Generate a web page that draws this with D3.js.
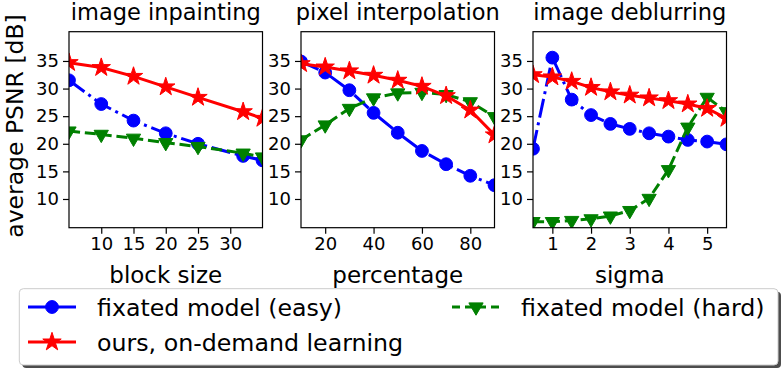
<!DOCTYPE html>
<html>
<head>
<meta charset="utf-8" />
<title>PSNR panels</title>
<style>
html, body {
    margin: 0px;
    padding: 0px;
    background: #fff;
}
svg {
    display: block;
    font-family: "DejaVu Sans", sans-serif;
}
</style>
</head>
<body>
<svg id="chart" width="783" height="374"></svg>

<script src="https://d3js.org/d3.v7.min.js"></script>
<script>
// ---- data ----
var blockSize = [5, 10, 15, 20, 25, 32, 35]
var inpaintEasy = [31.5, 27.2, 24.2, 21.9, 20.0, 17.8, 17.0]
var inpaintOurs = [34.7, 33.8, 32.2, 30.3, 28.4, 25.8, 24.6]
var inpaintHard = [22.3, 21.7, 21.0, 20.2, 19.5, 18.3, 17.6]

var percentage = [10, 20, 30, 40, 50, 60, 70, 80, 90]
var interpEasy = [34.9, 32.9, 29.7, 25.6, 22.0, 18.7, 16.3, 14.2, 12.5]
var interpOurs = [34.5, 33.9, 33.2, 32.4, 31.5, 30.4, 28.7, 26.1, 21.6]
var interpHard = [20.7, 23.4, 26.4, 28.3, 29.2, 29.3, 28.9, 27.6, 24.9]

var sigma = [0.5, 1, 1.5, 2, 2.5, 3, 3.5, 4, 4.5, 5, 5.5]
var deblurEasy = [19.1, 35.6, 28.0, 25.2, 23.6, 22.7, 21.9, 21.3, 20.7, 20.4, 19.9]
var deblurOurs = [32.5, 32.1, 31.3, 30.2, 29.4, 28.8, 28.3, 27.8, 27.2, 26.4, 24.6]
var deblurHard = [5.9, 5.9, 6.1, 6.4, 6.9, 7.9, 10.1, 15.3, 23.0, 28.4, 25.8]

var yTicks = [10, 15, 20, 25, 30, 35]
var seriesNames = ["fixated model (easy)", "ours, on-demand learning", "fixated model (hard)"]

var panels = [
    {title: "image inpainting", xlabel: "block size", x: blockSize, ticks: [10, 15, 20, 25, 30],
     easy: inpaintEasy, ours: inpaintOurs, hard: inpaintHard},
    {title: "pixel interpolation", xlabel: "percentage", x: percentage, ticks: [20, 40, 60, 80],
     easy: interpEasy, ours: interpOurs, hard: interpHard},
    {title: "image deblurring", xlabel: "sigma", x: sigma, ticks: [1, 2, 3, 4, 5],
     easy: deblurEasy, ours: deblurOurs, hard: deblurHard}
]

// ---- styles ----
var lw = 3
var styles = {
    easy: {color: "#0000ff", dash: [6.4*lw, 1.6*lw, 1*lw, 1.6*lw].join(","), marker: "circle"},
    ours: {color: "#ff0000", dash: null, marker: "star"},
    hard: {color: "#008000", dash: [3.7*lw, 1.6*lw].join(","), marker: "tri"}
}
var drawOrder = ["easy", "hard", "ours"]

var svg = d3.select("#chart")

var plotTop = 31.7, plotBottom = 227.7
var panelLeft = [69, 301, 533]
var panelW = 193.5

var yScale = d3.scaleLinear().domain([4.8, 40.3]).range([plotBottom, plotTop])

function markerPath(kind) {
    if (kind == "circle") return d3.symbol().type(d3.symbolCircle).size(Math.PI*6.4*6.4)()
    if (kind == "star") return d3.symbol().type(d3.symbolStar).size(105)()
    return d3.symbol().type(d3.symbolTriangle).size(88)()
}
function markerTransform(kind, x, y) {
    if (kind == "tri") return "translate(" + [x, y] + ") rotate(180)"
    return "translate(" + [x, y] + ")"
}

panels.forEach(function(p, i) {
    var x0 = panelLeft[i]
    var xScale = d3.scaleLinear().domain(d3.extent(p.x)).range([0, panelW])

    var g = svg.append("g").attr("transform", "translate(" + [x0, 0] + ")")

    g.append("clipPath").attr("id", "clip" + i)
        .append("rect").attr("x", 0).attr("y", plotTop).attr("width", panelW).attr("height", plotBottom - plotTop)

    // axes
    var xAxis = d3.axisBottom(xScale).tickValues(p.ticks).tickFormat(d3.format("d")).tickSize(6).tickPadding(4)
    var yAxis = d3.axisLeft(yScale).tickValues(yTicks).tickSize(6).tickPadding(4)

    var gx = g.append("g").attr("transform", "translate(0," + plotBottom + ")").call(xAxis)
    var gy = g.append("g").call(yAxis)
    ;[gx, gy].forEach(function(a) {
        a.select(".domain").remove()
        a.selectAll("line").attr("stroke", "#000").attr("stroke-width", 1.2)
        a.selectAll("text").attr("font-size", 18).attr("fill", "#000")
            .attr("font-family", "DejaVu Sans, sans-serif")
    })

    // lines and markers
    var plot = g.append("g").attr("clip-path", "url(#clip" + i + ")")
    drawOrder.forEach(function(key) {
        var st = styles[key]
        var vals = p[key]
        var pts = p.x.map(function(d, j) { return [d, vals[j]] })
        var line = d3.line().x(function(d) { return xScale(d[0]) }).y(function(d) { return yScale(d[1]) })
        plot.append("path")
            .attr("d", line(pts))
            .attr("fill", "none")
            .attr("stroke", st.color)
            .attr("stroke-width", lw)
            .attr("stroke-dasharray", st.dash)
        plot.selectAll(null).data(pts).enter().append("path")
            .attr("d", markerPath(st.marker))
            .attr("transform", function(d) { return markerTransform(st.marker, xScale(d[0]), yScale(d[1])) })
            .attr("fill", st.color)
            .attr("stroke", st.color)
            .attr("stroke-width", 1)
    })

    // frame
    g.append("rect").attr("x", 0).attr("y", plotTop).attr("width", panelW).attr("height", plotBottom - plotTop)
        .attr("fill", "none").attr("stroke", "#000").attr("stroke-width", 1.2)

    g.append("text").attr("x", panelW/2).attr("y", 20).attr("text-anchor", "middle")
        .attr("font-size", 22.5).text(p.title)
    g.append("text").attr("x", panelW/2).attr("y", 283).attr("text-anchor", "middle")
        .attr("font-size", 23).text(p.xlabel)
})

svg.append("text")
    .attr("transform", "translate(23,126) rotate(-90)")
    .attr("text-anchor", "middle")
    .attr("font-size", 23.5)
    .text("average PSNR [dB]")

// ---- legend ----
var leg = svg.append("g")
leg.append("rect").attr("x", 22.3).attr("y", 291.7).attr("width", 758.7).attr("height", 76.3)
    .attr("rx", 4).attr("fill", "#4d4d4d")
leg.append("rect").attr("x", 19.3).attr("y", 288.7).attr("width", 758.7).attr("height", 76.3)
    .attr("rx", 4).attr("fill", "#fff").attr("stroke", "#cccccc").attr("stroke-width", 1)

var legendItems = [
    {key: "easy", name: seriesNames[0], x: 28, y: 307},
    {key: "ours", name: seriesNames[1], x: 28, y: 342},
    {key: "hard", name: seriesNames[2], x: 452, y: 307}
]
legendItems.forEach(function(it) {
    var st = styles[it.key]
    leg.append("line").attr("x1", it.x).attr("x2", it.x + 48).attr("y1", it.y).attr("y2", it.y)
        .attr("stroke", st.color).attr("stroke-width", lw)
        .attr("stroke-dasharray", it.key == "hard" ? "8,5" : null)
    leg.append("path").attr("d", markerPath(st.marker))
        .attr("transform", markerTransform(st.marker, it.x + 24, it.y))
        .attr("fill", st.color).attr("stroke", st.color).attr("stroke-width", 1)
    leg.append("text").attr("x", it.x + 69).attr("y", it.y + 9)
        .attr("font-size", 23.7).text(it.name)
})
</script>
</body>
</html>
